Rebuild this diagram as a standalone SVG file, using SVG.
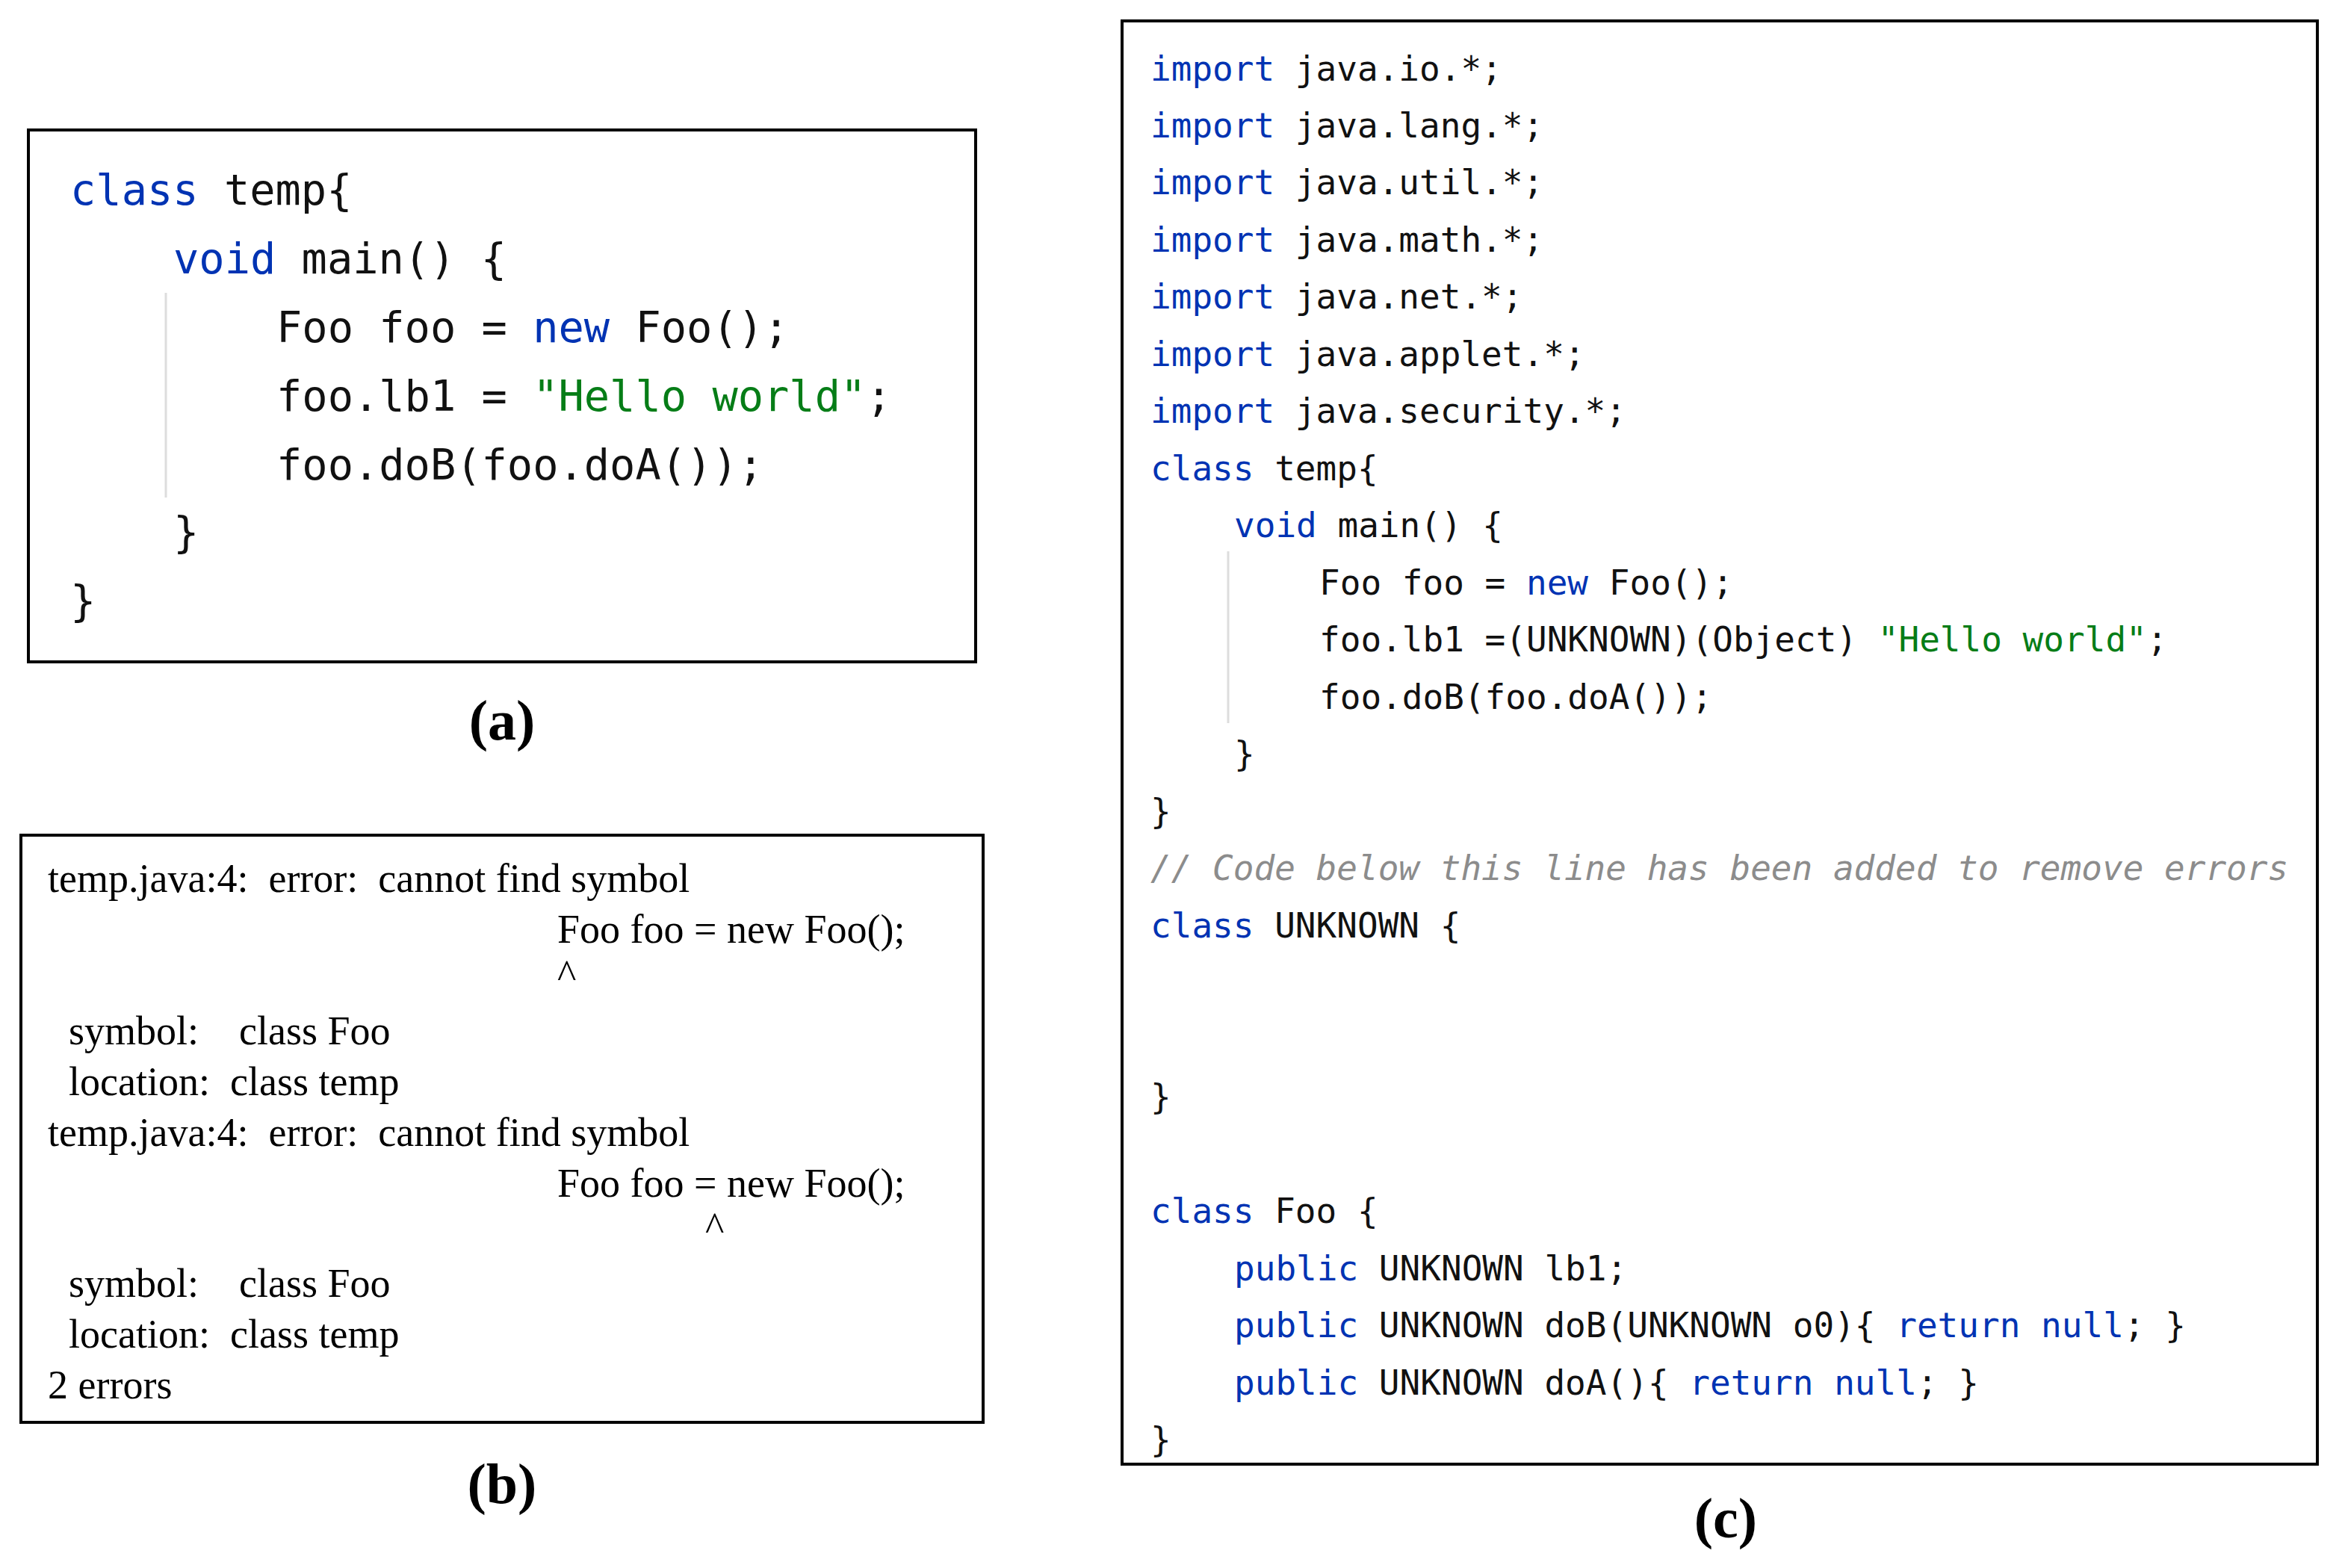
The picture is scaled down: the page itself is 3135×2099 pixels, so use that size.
<svg xmlns="http://www.w3.org/2000/svg" width="3135" height="2099" viewBox="0 0 3135 2099">
<style>
.box{fill:#fff;stroke:#000;stroke-width:4}
.m{font-family:"DejaVu Sans Mono","Liberation Mono",monospace;fill:#111;white-space:pre}
.a{font-size:57px}
.c{font-size:46px}
.k{fill:#0033b3}
.s{fill:#067d17}
.cm{fill:#8c8c8c;font-style:italic}
.t{font-family:"Liberation Serif",serif;font-size:54px;fill:#000;white-space:pre}
.lab{font-family:"Liberation Serif",serif;font-size:76px;font-weight:bold;fill:#000;text-anchor:middle}
.g{stroke:#ddd;stroke-width:3}
</style>
<rect width="3135" height="2099" fill="#fff"/>
<g id="panel-a">
<rect class="box" x="38" y="174" width="1268" height="712"/>
<line class="g" x1="222" y1="392" x2="222" y2="666"/>
<text class="m a" x="94" y="274" xml:space="preserve"><tspan class="k">class</tspan> temp{</text>
<text class="m a" x="232" y="366" xml:space="preserve"><tspan class="k">void</tspan> main() {</text>
<text class="m a" x="370" y="458" xml:space="preserve">Foo foo = <tspan class="k">new</tspan> Foo();</text>
<text class="m a" x="370" y="550" xml:space="preserve">foo.lb1 = <tspan class="s">"Hello world"</tspan>;</text>
<text class="m a" x="370" y="642" xml:space="preserve">foo.doB(foo.doA());</text>
<text class="m a" x="232" y="732">}</text>
<text class="m a" x="94" y="824">}</text>
<text class="lab" x="672" y="990">(a)</text>
</g>
<g id="panel-b">
<rect class="box" x="28" y="1118" width="1288" height="786"/>
<text class="t" x="64" y="1194" xml:space="preserve">temp.java:4:  error:  cannot find symbol</text>
<text class="t" x="746" y="1262">Foo foo = new Foo();</text>
<text class="t" x="746" y="1322">^</text>
<text class="t" x="92" y="1398" xml:space="preserve">symbol:    class Foo</text>
<text class="t" x="92" y="1466" xml:space="preserve">location:  class temp</text>
<text class="t" x="64" y="1534" xml:space="preserve">temp.java:4:  error:  cannot find symbol</text>
<text class="t" x="746" y="1602">Foo foo = new Foo();</text>
<text class="t" x="944" y="1660">^</text>
<text class="t" x="92" y="1736" xml:space="preserve">symbol:    class Foo</text>
<text class="t" x="92" y="1804" xml:space="preserve">location:  class temp</text>
<text class="t" x="64" y="1872">2 errors</text>
<text class="lab" x="672" y="2012">(b)</text>
</g>
<g id="panel-c">
<rect class="box" x="1502" y="28" width="1600" height="1932"/>
<line class="g" x1="1644" y1="738" x2="1644" y2="968"/>
<text class="m c" x="1540" y="108" xml:space="preserve"><tspan class="k">import</tspan> java.io.*;</text>
<text class="m c" x="1540" y="184" xml:space="preserve"><tspan class="k">import</tspan> java.lang.*;</text>
<text class="m c" x="1540" y="260" xml:space="preserve"><tspan class="k">import</tspan> java.util.*;</text>
<text class="m c" x="1540" y="337" xml:space="preserve"><tspan class="k">import</tspan> java.math.*;</text>
<text class="m c" x="1540" y="413" xml:space="preserve"><tspan class="k">import</tspan> java.net.*;</text>
<text class="m c" x="1540" y="490" xml:space="preserve"><tspan class="k">import</tspan> java.applet.*;</text>
<text class="m c" x="1540" y="566" xml:space="preserve"><tspan class="k">import</tspan> java.security.*;</text>
<text class="m c" x="1540" y="643" xml:space="preserve"><tspan class="k">class</tspan> temp{</text>
<text class="m c" x="1652" y="719" xml:space="preserve"><tspan class="k">void</tspan> main() {</text>
<text class="m c" x="1766" y="796" xml:space="preserve">Foo foo = <tspan class="k">new</tspan> Foo();</text>
<text class="m c" x="1766" y="872" xml:space="preserve">foo.lb1 =(UNKNOWN)(Object) <tspan class="s">"Hello world"</tspan>;</text>
<text class="m c" x="1766" y="949" xml:space="preserve">foo.doB(foo.doA());</text>
<text class="m c" x="1652" y="1025">}</text>
<text class="m c" x="1540" y="1102">}</text>
<text class="m c cm" x="1540" y="1178" xml:space="preserve">// Code below this line has been added to remove errors</text>
<text class="m c" x="1540" y="1255" xml:space="preserve"><tspan class="k">class</tspan> UNKNOWN {</text>
<text class="m c" x="1540" y="1484">}</text>
<text class="m c" x="1540" y="1637" xml:space="preserve"><tspan class="k">class</tspan> Foo {</text>
<text class="m c" x="1652" y="1714" xml:space="preserve"><tspan class="k">public</tspan> UNKNOWN lb1;</text>
<text class="m c" x="1652" y="1790" xml:space="preserve"><tspan class="k">public</tspan> UNKNOWN doB(UNKNOWN o0){ <tspan class="k">return null</tspan>; }</text>
<text class="m c" x="1652" y="1867" xml:space="preserve"><tspan class="k">public</tspan> UNKNOWN doA(){ <tspan class="k">return null</tspan>; }</text>
<text class="m c" x="1540" y="1943">}</text>
<text class="lab" x="2310" y="2058">(c)</text>
</g>
</svg>
